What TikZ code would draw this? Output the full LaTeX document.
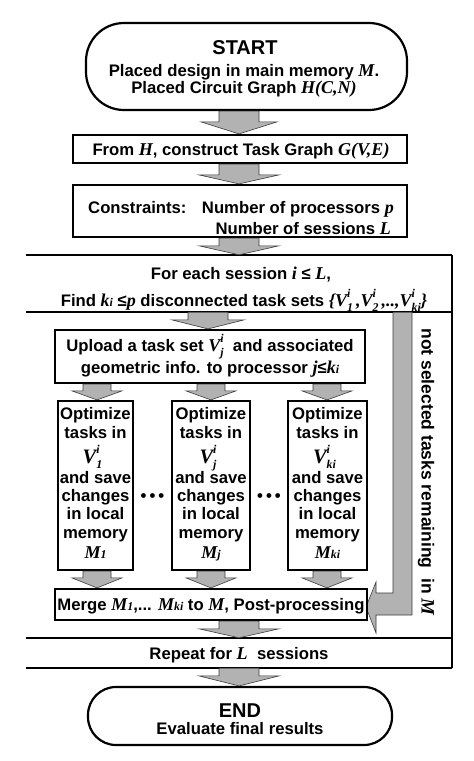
\documentclass[tikz,border=0pt]{standalone}
\usepackage{fontspec}
\setmainfont{Liberation Sans}
\newfontfamily\tms[Scale=1.08]{Liberation Serif}
\usetikzlibrary{calc}
\definecolor{gfill}{RGB}{178,178,178}
\definecolor{gline}{RGB}{60,60,60}
\newcommand\vr[1]{{\tms\bfseries\itshape #1}}
\newcommand\smallv[1]{{\fontsize{11}{11}\selectfont\tms\bfseries\itshape #1}}
\newcommand\subsup[2]{\mbox{\rlap{\raisebox{0.5em}{\smallv{#2}}}\raisebox{-0.3em}{\smallv{#1}}}}
\newcommand\darrow[6]{%
 \path[garrow] let \p1=(#1.south), \p2=(#2.north) in
 (#3pt-#4pt,\y1) -- (#3pt+#4pt,\y1) -- (#3pt+#4pt,\y2+#6pt) -- (#3pt+#5pt,\y2+#6pt)
 -- (#3pt,\y2) -- (#3pt-#5pt,\y2+#6pt) -- (#3pt-#4pt,\y2+#6pt) -- cycle;}
\begin{document}
\begin{tikzpicture}[x=1pt,y=-1pt,
  garrow/.style={fill=gfill,draw=gline,line width=0.6pt},
  boxs/.style={draw,line width=2.2pt,inner sep=0pt},
  band/.style={line width=1.8pt},
  txt/.style={font=\bfseries\fontsize{16.7}{18}\selectfont,anchor=base,inner sep=0pt},
  big/.style={font=\bfseries\fontsize{20}{22}\selectfont,anchor=base,inner sep=0pt}]
\useasboundingbox (0,0) rectangle (474,761);
% boxes
\node[boxs,rounded corners=38pt,minimum width=321pt,minimum height=87pt] (start) at (246.5,66.5) {};
\node[boxs,minimum width=334pt,minimum height=28pt] (b2) at (240,149) {};
\node[boxs,minimum width=334pt,minimum height=52pt] (b3) at (240,211) {};
\node[inner sep=0pt,minimum width=426pt,minimum height=57pt] (sess) at (239,283.5) {};
\node[boxs,minimum width=310pt,minimum height=53pt] (up) at (210,356.5) {};
\node[boxs,minimum width=75pt,minimum height=169pt] (o1) at (95.5,485.5) {};
\node[boxs,minimum width=78pt,minimum height=169pt] (o2) at (211,485.5) {};
\node[boxs,minimum width=79pt,minimum height=169pt] (o3) at (327.5,485.5) {};
\node[inner sep=0pt,minimum width=426pt,minimum height=30pt] (rep) at (239,653) {};
\node[boxs,rounded corners=28pt,minimum width=304pt,minimum height=58pt] (end) at (240,716) {};
% band lines
\draw[band] (sess.north west) -- (sess.north east);
\draw[band] (sess.south west) -- (sess.south east);
\draw[band] (rep.north west) -- (rep.north east);
\draw[band] (rep.south west) -- (rep.south east);
\draw[band] (sess.north east) -- (rep.south east);
% right return arrow
\path[garrow] let \p1=(sess.south), \p2=(up.east) in
 (393,\y1) -- (412,\y1) -- (412,615) -- (376,615) -- (376,633) -- (366,607)
 -- (376,582) -- (376,593) -- (393,593) -- cycle;
\node[boxs,fill=white,minimum width=312pt,minimum height=31pt] (mg) at (211,604.5) {};
% down arrows
\darrow{start}{b2}{239}{20}{38}{12}
\darrow{b2}{b3}{239}{20}{40}{9}
\darrow{b3}{sess}{239}{20}{40}{9}
\darrow{sess}{up}{208}{20}{36}{9}
\darrow{up}{o1}{97}{14}{25}{9}
\darrow{up}{o2}{211}{14}{25}{9}
\darrow{up}{o3}{327}{14}{25}{9}
\darrow{o1}{mg}{97}{14}{25}{10}
\darrow{o2}{mg}{211}{14}{25}{10}
\darrow{o3}{mg}{327}{14}{25}{10}
\darrow{mg}{rep}{239}{20}{40}{9}
\darrow{rep}{end}{239}{20}{40}{10}
% texts
\node[big] (t1) at (245,54) {START};
\node[txt] (t2) at (244,76) {Placed design in main memory \vr{M}.};
\node[txt] (t3) at (244,93) {Placed Circuit Graph \vr{H(C,N)}};
\node[txt] (t4) at (241,155) {From \vr{H}, construct Task Graph \vr{G(V,E)}};
\node[txt,anchor=base west] (t5) at (88,213) {Constraints:};
\node[txt,anchor=base east] (t6) at (394,213) {Number of processors \vr{p}};
\node[txt,anchor=base east] (t7) at (391,234) {Number of sessions \vr{L}};
\node[txt] (t8) at (241,279) {For each session \vr{i} ≤ \vr{L},};
\node[txt] (t9) at (244,306) {Find \vr{k\smallv{i}} ≤\vr{p} disconnected task sets \vr{\{V}\subsup{1}{i}\vr{\,,V}\subsup{2}{i}\vr{\,,..,V}\subsup{ki}{i}\vr{\}}};
\node[txt] (t10) at (210,351) {Upload a task set \vr{V}\subsup{j}{i}\ \ and associated};
\node[txt] (t11) at (210,373) {geometric info. to processor \vr{j}≤\vr{k\smallv{i}}};
\foreach \n/\cx/\vs/\ms in {1/95.5/1/1,2/211/j/j,3/327.5/ki/ki}{
  \node[txt] (oa\n) at (\cx,419) {Optimize};
  \node[txt] (ob\n) at (\cx,438) {tasks in};
  \node[txt,font=\bfseries\fontsize{19}{20}\selectfont] (oc\n) at (\cx-3,463) {\vr{V}\subsup{\vs}{i}};
  \node[txt] (od\n) at (\cx,483) {and save};
  \node[txt] (oe\n) at (\cx,501) {changes};
  \node[txt] (of\n) at (\cx,519) {in local};
  \node[txt] (og\n) at (\cx,538) {memory};
  \node[txt] (oh\n) at (\cx,558) {\vr{M\smallv{\ms}}};
}
\node[txt] (d1) at (152.5,501) {•\hspace{3pt}•\hspace{3pt}•};
\node[txt] (d2) at (269,501) {•\hspace{3pt}•\hspace{3pt}•};
\node[txt] (t12) at (211,610) {Merge \vr{M\smallv{1}},... \vr{M\smallv{ki}} to \vr{M}, Post-processing};
\node[txt] (t13) at (239,659) {Repeat for \vr{L} \ sessions};
\node[big] (t14) at (240,717) {END};
\node[txt] (t15) at (240,734) {Evaluate final results};
\node[font=\bfseries\fontsize{17.5}{18}\selectfont,rotate=-90,inner sep=0pt] (t16) at (426,472) {not selected tasks remaining \ in \vr{M}};
\end{tikzpicture}
\end{document}
